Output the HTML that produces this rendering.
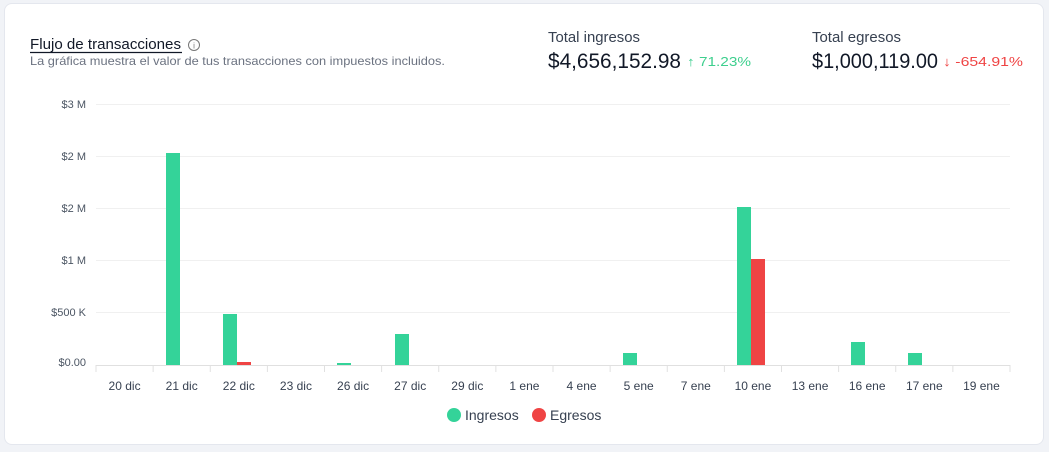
<!DOCTYPE html>
<html><head><meta charset="utf-8"><style>
html,body{margin:0;padding:0;background:#f1f3f7;width:1049px;height:452px;overflow:hidden;font-family:"Liberation Sans",sans-serif;}
.card{position:absolute;left:4px;top:3px;width:1038px;height:440px;background:#fff;border:1px solid #e4e7ee;border-radius:8px;}
</style></head><body>
<div class="card"></div>
<svg width="1049" height="452" style="position:absolute;left:0;top:0" font-family="Liberation Sans, sans-serif">
<text x="30" y="49" font-size="14.5" fill="#111827" textLength="151" lengthAdjust="spacingAndGlyphs">Flujo de transacciones</text>
<line x1="30" y1="52.5" x2="182" y2="52.5" stroke="#111827" stroke-width="1.2"/>
<circle cx="194" cy="45" r="5.5" fill="none" stroke="#777" stroke-width="1"/>
<text x="194" y="48.5" font-size="8" fill="#777" text-anchor="middle">i</text>
<text x="30" y="65" font-size="12" fill="#6b7280" textLength="415" lengthAdjust="spacingAndGlyphs">La gráfica muestra el valor de tus transacciones con impuestos incluidos.</text>
<text x="548" y="42" font-size="14.5" fill="#374151" textLength="92" lengthAdjust="spacingAndGlyphs">Total ingresos</text>
<text x="548" y="68" font-size="21" fill="#111827" textLength="133" lengthAdjust="spacingAndGlyphs">$4,656,152.98</text>
<text x="687" y="66" font-size="13" fill="#3ecf8e" textLength="64" lengthAdjust="spacingAndGlyphs">↑ 71.23%</text>
<text x="812" y="42" font-size="14.5" fill="#374151" textLength="89" lengthAdjust="spacingAndGlyphs">Total egresos</text>
<text x="812" y="68" font-size="21" fill="#111827" textLength="126" lengthAdjust="spacingAndGlyphs">$1,000,119.00</text>
<text x="943" y="66" font-size="13" fill="#ef4444" textLength="80" lengthAdjust="spacingAndGlyphs">↓ -654.91%</text>
<g stroke="#f0f0f0" stroke-width="1">
<line x1="96" y1="104.5" x2="1010" y2="104.5"/><line x1="96" y1="156.5" x2="1010" y2="156.5"/>
<line x1="96" y1="208.5" x2="1010" y2="208.5"/><line x1="96" y1="260.5" x2="1010" y2="260.5"/>
<line x1="96" y1="312.5" x2="1010" y2="312.5"/>
</g>
<g font-size="11" fill="#4b5563" text-anchor="end">
<text x="86" y="108">$3 M</text><text x="86" y="160">$2 M</text><text x="86" y="212">$2 M</text>
<text x="86" y="264">$1 M</text><text x="86" y="316">$500 K</text><text x="86" y="366">$0.00</text>
</g>
<g fill="#34d399">
<rect x="166" y="153" width="14" height="212"/>
<rect x="223" y="314" width="14" height="51"/>
<rect x="337" y="363" width="14" height="2"/>
<rect x="395" y="334" width="14" height="31"/>
<rect x="623" y="353" width="14" height="12"/>
<rect x="737" y="207" width="14" height="158"/>
<rect x="851" y="342" width="14" height="23"/>
<rect x="908" y="353" width="14" height="12"/>
</g>
<g fill="#ef4444">
<rect x="237" y="362" width="14" height="3"/>
<rect x="751" y="259" width="14" height="106"/>
</g>
<line x1="96" y1="365.5" x2="1010" y2="365.5" stroke="#e0e0e0"/>
<g stroke="#e0e0e0" id="ticks"></g>
<g font-size="12" fill="#374151" text-anchor="middle" id="labels"></g>
<circle cx="454" cy="415" r="7" fill="#34d399"/>
<text x="465" y="420" font-size="14" fill="#374151">Ingresos</text>
<circle cx="539" cy="415" r="7" fill="#ef4444"/>
<text x="550" y="420" font-size="14" fill="#374151">Egresos</text>
</svg>
<script>
var L=["20 dic","21 dic","22 dic","23 dic","26 dic","27 dic","29 dic","1 ene","4 ene","5 ene","7 ene","10 ene","13 ene","16 ene","17 ene","19 ene"];
var ns="http://www.w3.org/2000/svg",t=document.getElementById("ticks"),g=document.getElementById("labels"),w=914/16;
for(var i=0;i<=16;i++){var x=96+i*w;var l=document.createElementNS(ns,"line");l.setAttribute("x1",x);l.setAttribute("x2",x);l.setAttribute("y1",365);l.setAttribute("y2",372);t.appendChild(l);}
L.forEach(function(s,i){var e=document.createElementNS(ns,"text");e.setAttribute("x",96+(i+.5)*w);e.setAttribute("y",390);e.textContent=s;g.appendChild(e);});
</script>
</body></html>
